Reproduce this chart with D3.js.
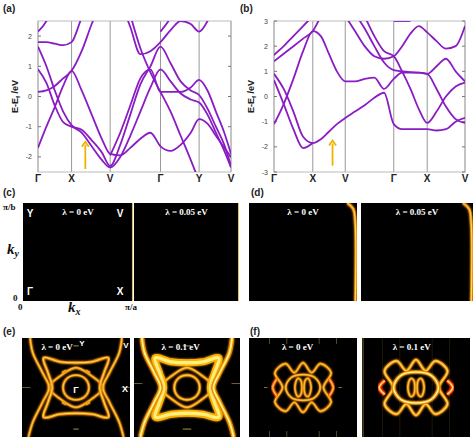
<!DOCTYPE html>
<html><head><meta charset="utf-8">
<script src="https://cdn.jsdelivr.net/npm/d3@7"></script>
<style>body{margin:0;background:#fff}svg{display:block}</style></head>
<body><svg id="c" width="474" height="441"></svg>
<script>
// ---------- band structure (a) ----------
const kA = [115,140,165,190,215,245,275,305,330,360,390,420,450,480,510,540,570,595,620,645,670,690];
const symA = [115,215,330,480,595,690];
const symLabelsA = ["Γ","X","V","Γ","Y","V"];
const yTicksA = [-2,-1,0,1,2];
const N = null;
const bandsA = [
 [-1.7,-1.0,-0.35,0.35,0.85, 0.2,-0.6,-1.4,-1.9, -1.95,-1.7,-1.4,-1.2,-1.65, -1.8,-1.6,-1.2,-0.75, -0.9,-1.3,-1.7,-2.0],
 [0.9,0.45,-0.3,-0.85,-1.0, -1.1,-1.45,-1.85,-2.3, -1.6,-0.6,0.4,1.0,1.65, 1.1,0.5,0.2,0.05, -0.4,-1.0,-1.6,-2.3],
 [1.65,1.0,0.2,-0.5,-0.95, -1.2,-1.65,-2.1,-2.35, -2.0,-1.3,-0.5,0.3,0.9, 0.5,0.1,-0.1,-0.2, -0.6,-1.2,-1.8,-2.35],
 [0.15,0.2,0.35,0.6,0.85, 1.5,2.4,3.2,N, N,N,N,N,N, N,N,N,N, N,N,N,N],
 [N,N,N,N,N, N,N,N,-1.95, -1.2,-0.3,0.6,0.9,0.15, 0.15,0.15,0.3,0.55, 0.2,-0.5,-1.2,-1.9],
 [1.8,1.8,1.75,1.7,1.8, 2.6,3.2,N,N, N,N,N,N,N, N,N,N,N, N,N,N,N],
 [2.15,2.5,3.2,N,N, N,N,N,N, N,N,N,N,N, N,N,N,N, N,N,N,N],
 [N,N,N,N,N, N,N,N,N, 3.2,2.3,1.4,1.5,1.8, 2.2,2.5,2.4,2.15, 2.5,3.2,N,N],
 [N,N,N,N,N, N,N,N,N, N,2.7,1.6,0.8,0.15, -0.5,-1.3,-2.1,-2.8, N,N,N,N],
 [N,N,N,N,N, N,N,N,N, N,N,N,N,2.15, 2.6,3.2,N,N, N,N,N,N]
];
// ---------- band structure (b) ----------
const kB = [112,141,170,199,228,252,276,300,325,354,383,412,441,470,495,520,545,570,598,626,655,683];
const symB = [112,228,325,470,570,683];
const symLabelsB = ["Γ","X","V","Γ","X","V"];
const yTicksB = [-3,-2,-1,0,1,2,3];
const bandsB = [
 [0.9,0.3,-0.6,-1.6,-1.85, -1.7,-1.4,-1.1,-0.85, -0.6,-0.35,-0.05,0.15,-1.1, -1.3,-1.3,-1.3,-1.3, -1.35,-1.3,-1.0,-0.85],
 [0.65,-0.3,-1.3,-2.05,-1.85, N,N,N,N, N,N,N,N,N, N,N,N,N, N,N,N,N],
 [-1.1,-0.3,0.7,1.8,2.6, 2.4,1.7,1.0,0.6, 0.6,0.7,0.75,0.3,0.7, 0.95,0.95,0.95,0.9, 0.3,-0.4,-0.9,-1.05],
 [1.4,1.7,2.0,2.3,2.6, 3.2,N,N,N, N,N,N,N,N, N,N,N,N, N,N,N,N],
 [1.65,2.0,2.4,2.8,3.2, N,N,N,N, N,N,N,N,N, N,N,N,N, N,N,N,N],
 [N,N,N,N,N, N,N,N,3.2, 2.6,2.0,1.6,1.5,1.6, 2.0,2.5,2.8,2.55, 2.2,1.9,2.0,2.8],
 [N,N,N,N,N, N,N,N,N, 3.3,2.7,2.0,1.35,1.05, 1.0,0.97,0.95,0.9, 1.2,1.5,1.0,0.6],
 [N,N,N,N,N, N,N,N,N, N,3.2,2.4,1.8,1.6, 1.0,0.3,-0.5,-1.05, -0.6,0.0,0.4,0.55],
 [N,N,N,N,N, N,N,N,N, N,N,N,N,3.0, 3.0,3.0,N,N, N,N,N,N]
];
// ---------- Fermi surface contours (normalised -1..1) ----------
const ellipseE = [[0.24,0],[0.17,0.18],[0,0.25],[-0.17,0.18],[-0.24,0],[-0.17,-0.18],[0,-0.25],[0.17,-0.18]];
const diamondE = [[0.5,0],[0.28,0.24],[0,0.4],[-0.28,0.24],[-0.5,0],[-0.28,-0.24],[0,-0.4],[0.28,-0.24]];
const starE = [[0.6,0.6],[0.3,0.52],[0,0.5],[-0.3,0.52],[-0.6,0.6],[-0.52,0.3],[-0.44,0],[-0.52,-0.3],[-0.6,-0.6],[-0.3,-0.54],[0,-0.52],[0.3,-0.54],[0.6,-0.6],[0.52,-0.3],[0.44,0],[0.52,0.3]];
const hourL = [[-0.85,1],[-0.8,0.7],[-0.62,0.3],[-0.5,0],[-0.62,-0.3],[-0.8,-0.7],[-0.88,-1]];
const hourR = hourL.map(p=>[-p[0],p[1]]);
const starF = [[-0.52,0.3],[-0.32,0.48],[-0.16,0.3],[0,0.5],[0.16,0.3],[0.32,0.48],[0.52,0.3],[0.38,0],[0.52,-0.3],[0.32,-0.48],[0.16,-0.3],[0,-0.5],[-0.16,-0.3],[-0.32,-0.48],[-0.52,-0.3],[-0.38,0]];
const innerF = [[-0.22,0.2],[0,0.26],[0.22,0.2],[0.32,0],[0.22,-0.2],[0,-0.26],[-0.22,-0.2],[-0.32,0]];
const eyeL = [[-0.02,0],[-0.05,0.16],[-0.1,0.18],[-0.15,0],[-0.1,-0.18],[-0.05,-0.16]];
const eyeR = eyeL.map(p=>[-p[0],p[1]]);
const edgeD = [[0.97,-1],[0.97,0.55],[0.93,0.88],[0.82,1]];
const edgeC = [[0.99,-1],[0.99,1]];

const svg = d3.select("#c");
const defs = svg.append("defs");
const f = defs.append("filter").attr("id","glow").attr("x","-20%").attr("y","-20%").attr("width","140%").attr("height","140%");
f.append("feGaussianBlur").attr("stdDeviation",1.2).attr("result","b");
const m = f.append("feMerge"); m.append("feMergeNode").attr("in","b"); m.append("feMergeNode").attr("in","SourceGraphic");

function label(x,y,t){svg.append("text").attr("x",x).attr("y",y).text(t).attr("font-family","Arial").attr("font-weight","bold").attr("font-size",10).attr("fill","#222");}

function bandPanel(id,ks,sym,symL,bands,ticks,x0,x1,y0,y1,emin,emax){
  const x = d3.scaleLinear().domain([ks[0],ks[ks.length-1]]).range([x0,x1]);
  const y = d3.scaleLinear().domain([emin,emax]).range([y1,y0]);
  const g = svg.append("g");
  defs.append("clipPath").attr("id",id).append("rect").attr("x",x0).attr("y",y0).attr("width",x1-x0).attr("height",y1-y0);
  g.selectAll(".s").data(sym).join("line").attr("x1",d=>x(d)).attr("x2",d=>x(d)).attr("y1",y0).attr("y2",y1).attr("stroke","#999").attr("stroke-width",1);
  g.append("rect").attr("x",x0).attr("y",y0).attr("width",x1-x0).attr("height",y1-y0).attr("fill","none").attr("stroke","#bbb");
  ticks.forEach(t=>{
    g.append("line").attr("x1",x0).attr("x2",x0+3).attr("y1",y(t)).attr("y2",y(t)).attr("stroke","#777");
    g.append("line").attr("x1",x1-3).attr("x2",x1).attr("y1",y(t)).attr("y2",y(t)).attr("stroke","#777");
    g.append("text").attr("x",x0-6).attr("y",y(t)+2.5).attr("text-anchor","end").attr("font-size",7).attr("font-family","Arial").attr("fill","#444").text(t);
  });
  sym.forEach((s,i)=>g.append("text").attr("x",x(s)).attr("y",y1+10).attr("text-anchor","middle").attr("font-size",10).attr("font-weight","bold").attr("font-family","Arial").attr("fill","#222").text(symL[i]));
  const line = d3.line().defined(d=>d[1]!==null).x(d=>x(d[0])).y(d=>y(d[1])).curve(d3.curveMonotoneX);
  g.append("g").attr("clip-path",`url(#${id})`).selectAll("path").data(bands).join("path")
    .attr("d",b=>line(b.map((e,i)=>[ks[i],e]))).attr("fill","none").attr("stroke","#8a1cc4").attr("stroke-width",1.8);
  g.append("text").attr("transform",`translate(${x0-20},${(y0+y1)/2}) rotate(-90)`).attr("text-anchor","middle")
    .attr("font-family","Arial").attr("font-weight","bold").attr("font-size",9).attr("fill","#222")
    .html('E-E<tspan font-size="6" dy="2">f</tspan><tspan dy="-2"> /eV</tspan>');
  return {x,y};
}
const pa = bandPanel("ca",kA,symA,symLabelsA,bandsA,yTicksA,38,231,21,172,-2.5,2.5);
const pb = bandPanel("cb",kB,symB,symLabelsB,bandsB,yTicksB,274,465,21,172,-3,3);
function arrow(px,py0,py1){svg.append("line").attr("x1",px).attr("x2",px).attr("y1",py0).attr("y2",py1+3).attr("stroke","#f0b400").attr("stroke-width",1.8);
 svg.append("path").attr("d",`M${px-3.5},${py1+5}L${px},${py1}L${px+3.5},${py1+5}`).attr("fill","none").attr("stroke","#f0b400").attr("stroke-width",1.8);}
arrow(pa.x(256),pa.y(-2.4),pa.y(-1.5));
arrow(pb.x(287),pb.y(-2.75),pb.y(-1.75));
label(3,12,"(a)"); label(240,12,"(b)");
label(3,196,"(c)"); label(251,196,"(d)"); label(3,335,"(e)"); label(250,335,"(f)");

function mapPanel(x0,y0,w,h,shapes,lam,lx){
  const x = d3.scaleLinear().domain([-1,1]).range([x0,x0+w]);
  const y = d3.scaleLinear().domain([-1,1]).range([y0+h,y0]);
  const id="m"+Math.round(x0)+"_"+Math.round(y0);
  defs.append("clipPath").attr("id",id).append("rect").attr("x",x0).attr("y",y0).attr("width",w).attr("height",h);
  svg.append("rect").attr("x",x0).attr("y",y0).attr("width",w).attr("height",h).attr("fill","#000");
  const g = svg.append("g").attr("clip-path",`url(#${id})`);
  shapes.forEach(s=>{
    const ln = d3.line().x(d=>x(d[0])).y(d=>y(d[1])).curve(s.closed?d3.curveCatmullRomClosed.alpha(0.5):d3.curveCatmullRom.alpha(0.5));
    g.append("path").attr("d",ln(s.pts)).attr("fill","none").attr("stroke",s.outer||"#e88a00").attr("stroke-width",s.w+1).attr("filter","url(#glow)");
    g.append("path").attr("d",ln(s.pts)).attr("fill","none").attr("stroke",s.core||"#ffe070").attr("stroke-width",s.w*0.55);
  });
  if(lam) g.append("text").attr("x",x(lx)).attr("y",y0+12).attr("text-anchor","middle").attr("fill","#fff")
    .attr("font-family","Liberation Serif").attr("font-weight","bold").attr("font-size",9).text(lam);
  return {x,y,g};
}
mapPanel(23,203,110,98,[{pts:edgeC,w:1.6}],"λ = 0 eV",0);
mapPanel(134,203,105,98,[{pts:edgeC,w:1.6}],"λ = 0.05 eV",0);
[["Y",30,217],["V",120,217],["Γ",30,295],["X",120,295]].forEach(d=>svg.append("text").attr("x",d[1]).attr("y",d[2]).text(d[0]).attr("fill","#fff").attr("font-family","Arial").attr("font-weight","bold").attr("font-size",10).attr("text-anchor","middle"));
mapPanel(249,203,108,98,[{pts:edgeD,w:1.8}],"λ = 0 eV",0);
mapPanel(361,203,112,98,[{pts:edgeD,w:1.8}],"λ = 0.05 eV",0);
const ser = (x,y,t,s)=>svg.append("text").attr("x",x).attr("y",y).attr("font-family","Liberation Serif").attr("font-weight","bold").attr("font-size",s).attr("fill","#111").text(t);
ser(3,210,"π/b",9); ser(13,301,"0",9); ser(18,310,"0",9); ser(125,310,"π/a",9);
svg.append("text").attr("x",7).attr("y",254).attr("font-family","Liberation Serif").attr("font-weight","bold").attr("font-style","italic").attr("font-size",15).attr("fill","#111").html('k<tspan font-size="10" dy="3">y</tspan>');
svg.append("text").attr("x",68).attr("y",312).attr("font-family","Liberation Serif").attr("font-weight","bold").attr("font-style","italic").attr("font-size",15).attr("fill","#111").html('k<tspan font-size="10" dy="3">x</tspan>');
const eShapes0 = [{pts:ellipseE,w:1.4,closed:true},{pts:diamondE,w:1.4,closed:true},{pts:starE,w:1.8,closed:true},{pts:hourL,w:1.5},{pts:hourR,w:1.5},
  {pts:[[-1,0],[-0.84,0]],w:0.7},{pts:[[1,0],[0.84,0]],w:0.7},{pts:[[-0.05,0.84],[0.05,0.84]],w:1.2},{pts:[[-0.05,-0.84],[0.05,-0.84]],w:1.2},
  {pts:[[0.18,0.35],[0.26,0.3]],w:0.8},{pts:[[-0.18,0.35],[-0.26,0.3]],w:0.8},{pts:[[0.18,-0.35],[0.26,-0.3]],w:0.8},{pts:[[-0.18,-0.35],[-0.26,-0.3]],w:0.8}];
const eShapes1 = [{pts:ellipseE,w:1.6,closed:true},{pts:diamondE,w:1.6,closed:true},{pts:starE,w:6,closed:true,core:"#fff080",outer:"#ffb000"},{pts:hourL,w:3.5,core:"#fff080"},{pts:hourR,w:3.5,core:"#fff080"},
  {pts:[[-1,0.08],[-0.84,0.08]],w:0.8},{pts:[[1,0.08],[0.84,0.08]],w:0.8},{pts:[[-0.08,0.84],[0.08,0.84]],w:1.2},{pts:[[-0.08,-0.84],[0.08,-0.84]],w:1.2}];
mapPanel(22,338,108,99,eShapes0,"λ = 0 eV",-0.35);
mapPanel(134,338,106,99,eShapes1,"λ = 0.1 eV",-0.12);
[["Y",82,346,8],["V",126,348,8],["Γ",76,393,9],["X",125,392,9]].forEach(d=>svg.append("text").attr("x",d[1]).attr("y",d[2]).text(d[0]).attr("fill","#fff").attr("font-family","Arial").attr("font-weight","bold").attr("font-size",d[3]).attr("text-anchor","middle"));
const vl = [-0.62,-0.3,0.3,0.62];
const fShapes0 = [{pts:starF,w:1.4,closed:true},{pts:innerF,w:1.4,closed:true},{pts:eyeL,w:1.2,closed:true},{pts:eyeR,w:1.2,closed:true},
  {pts:[[-0.48,0.18],[-0.56,0],[-0.48,-0.18]],w:1.8,outer:"#ff6000"},{pts:[[0.48,0.18],[0.56,0],[0.48,-0.18]],w:1.8,outer:"#ff6000"},
  {pts:[[-0.72,0],[-0.66,0]],w:1},{pts:[[0.72,0],[0.66,0]],w:1}].concat(vl.map(v=>({pts:[[v,1],[v,0.88]],w:0.6})),vl.map(v=>({pts:[[v,-1],[v,-0.88]],w:0.6})));
const fShapes1 = [{pts:starF.map(p=>[p[0]*1.12,p[1]*1.12]),w:2,closed:true},{pts:innerF.map(p=>[p[0]*1.3,p[1]*1.2]),w:2.6,closed:true,core:"#fff59a"},{pts:eyeL,w:1.4,closed:true},{pts:eyeR,w:1.4,closed:true},
  {pts:[[-0.58,0.14],[-0.68,0],[-0.58,-0.14]],w:3,outer:"#ff3000"},{pts:[[0.58,0.14],[0.68,0],[0.58,-0.14]],w:3,outer:"#ff3000"},
  {pts:[[-0.98,1],[-0.98,-1]],w:0.8}].concat(vl.map(v=>({pts:[[v,1],[v,-1]],w:0.35,outer:"#5a3a00",core:"#a07a30"})));
mapPanel(249,338,108,99,fShapes0,"λ = 0 eV",-0.1);
mapPanel(362,338,108,99,fShapes1,"λ = 0.1 eV",-0.08);
</script></body></html>
